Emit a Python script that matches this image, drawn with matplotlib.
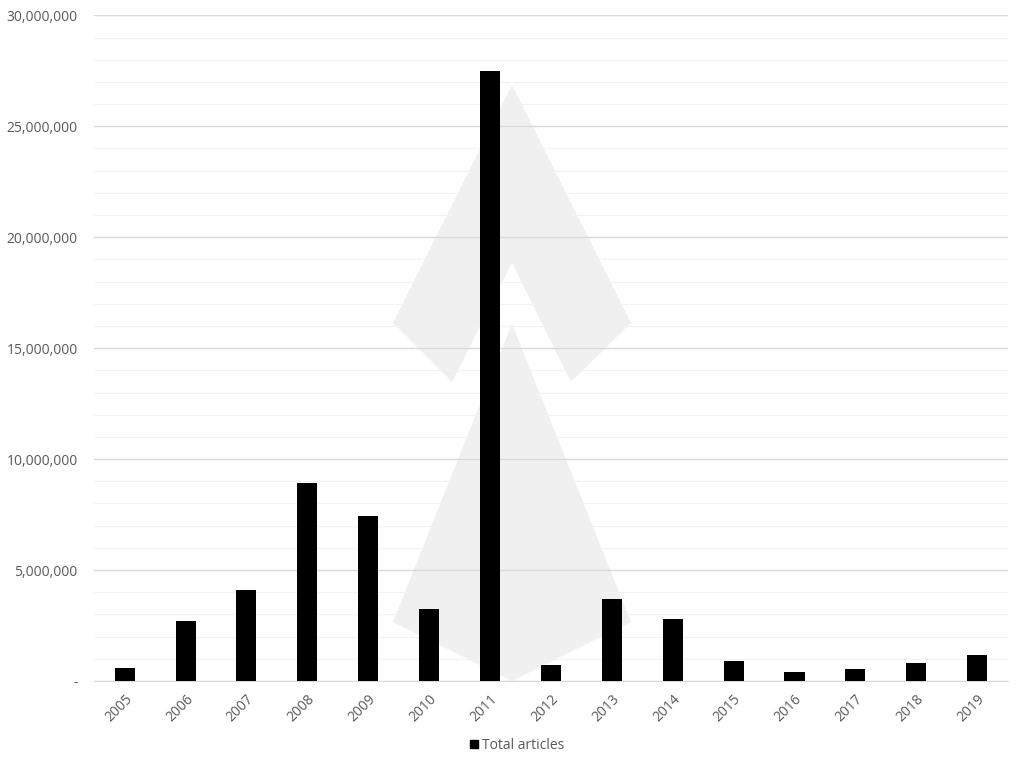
import matplotlib
matplotlib.use("Agg")
import matplotlib.pyplot as plt
from matplotlib.patches import Polygon
from matplotlib.lines import Line2D
from matplotlib.ticker import MultipleLocator, FuncFormatter

# data
years = ['2005', '2006', '2007', '2008', '2009', '2010', '2011', '2012',
         '2013', '2014', '2015', '2016', '2017', '2018', '2019']
total_articles = [580000, 2700000, 4100000, 8900000, 7430000, 3230000,
                  27480000, 720000, 3690000, 2790000, 890000, 390000,
                  560000, 810000, 1160000]
series_name = 'Total articles'

plt.rcParams['font.family'] = ['Open Sans', 'DejaVu Sans']

fig = plt.figure(figsize=(10.24, 7.66), dpi=100)
ax = fig.add_axes([0.092, 0.111, 0.892, 0.869])

# faint logo watermark behind the bars (figure pixel coords)
W, H = 1024, 766
def px(pts):
    return [(x / W, 1 - y / H) for x, y in pts]

upper = px([(512, 85), (631, 323), (571, 382), (512, 263),
            (452, 382), (393, 323)])
lower = px([(512, 324), (631, 622), (512, 681), (393, 622)])
for shape in (upper, lower):
    ax.add_patch(Polygon(shape, closed=True, transform=fig.transFigure,
                         facecolor='#f0f0f0', edgecolor='none', zorder=0))

x = range(len(years))
ax.bar(x, total_articles, width=0.33, color='black', zorder=3)

ax.set_xlim(-0.5, len(years) - 0.5)
ax.set_ylim(0, 30000000)
ax.yaxis.set_major_locator(MultipleLocator(5000000))
ax.yaxis.set_minor_locator(MultipleLocator(1000000))
ax.yaxis.set_major_formatter(
    FuncFormatter(lambda v, p: '-' if v == 0 else f'{int(v):,}'))

ax.grid(which='major', axis='y', color='#d9d9d9', linewidth=1.0, zorder=1)
ax.grid(which='minor', axis='y', color='#f2f2f2', linewidth=0.8, zorder=1)
ax.set_axisbelow(True)

ax.set_xticks(list(x))
ax.set_xticklabels(years, rotation=45, ha='right', rotation_mode='anchor')
ax.tick_params(axis='both', which='both', length=0, labelsize=10,
               labelcolor='#595959')
ax.tick_params(axis='y', pad=12)
ax.tick_params(axis='x', pad=8)

for side in ['top', 'right', 'left']:
    ax.spines[side].set_visible(False)
ax.spines['bottom'].set_color('#d9d9d9')

handle = Line2D([], [], marker='s', color='black', linestyle='none',
                markersize=6)
fig.legend([handle], [series_name], loc='center', bbox_to_anchor=(0.503, 0.027),
           frameon=False, fontsize=10, handletextpad=0.0, handlelength=1.2,
           labelcolor='#595959')

fig.savefig('out.png', dpi=100)
